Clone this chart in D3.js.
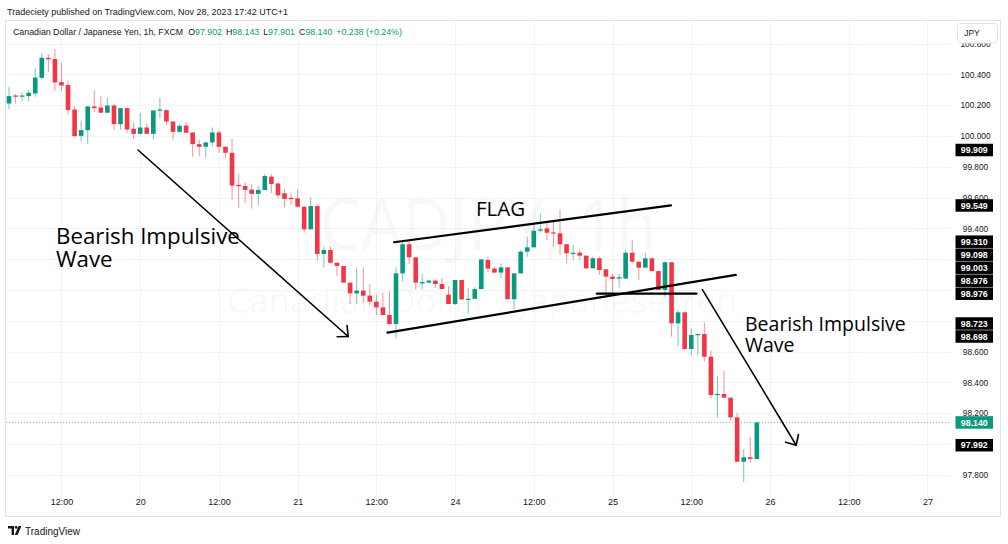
<!DOCTYPE html>
<html><head><meta charset="utf-8">
<script src="https://cdn.jsdelivr.net/npm/d3@7"></script>
<style>
html,body{margin:0;padding:0;background:#fff;}
svg{display:block;font-family:"Liberation Sans",Arial,sans-serif;}
</style></head>
<body>
<svg id="c" width="1008" height="544"></svg>
<script>
// ---- data (CADJPY 1h candles) ----
const opens = [100.211,100.263,100.255,100.259,100.276,100.378,100.508,100.500,100.350,100.331,
100.172,100.001,100.038,100.192,100.185,100.151,100.198,100.077,100.181,100.047,
100.014,100.055,100.014,100.164,100.168,100.094,100.027,100.068,100.023,99.947,
99.930,99.958,100.023,99.930,99.891,99.683,99.676,99.652,99.624,99.649,
99.736,99.692,99.628,99.599,99.595,99.541,99.394,99.545,99.234,99.260,
99.177,99.156,99.048,98.978,98.996,98.963,98.924,98.887,98.838,98.779,
99.108,99.297,99.212,99.043,99.048,99.061,99.039,98.970,98.909,99.065,
98.935,98.943,99.006,99.195,99.139,99.113,99.147,98.940,99.108,99.249,
99.277,99.385,99.400,99.374,99.368,99.297,99.234,99.242,99.223,99.141,
99.206,99.134,99.087,99.074,99.074,99.242,99.184,99.145,99.206,99.123,
99.000,99.180,98.784,98.855,98.617,98.708,98.714,98.567,98.318,98.325,
98.301,98.173,97.885,97.914,97.902];
const highs = [100.320,100.272,100.283,100.302,100.441,100.537,100.532,100.565,100.476,100.359,
100.194,100.099,100.196,100.298,100.259,100.250,100.207,100.181,100.185,100.086,
100.151,100.081,100.166,100.248,100.172,100.094,100.081,100.090,100.023,99.977,
99.962,100.055,100.038,99.930,99.982,99.752,99.700,99.691,99.674,99.753,
99.753,99.692,99.654,99.632,99.654,99.545,99.602,99.558,99.281,99.284,
99.177,99.156,99.048,99.147,99.147,99.039,98.970,98.983,98.991,99.147,
99.325,99.325,99.212,99.104,99.069,99.069,99.078,99.024,99.065,99.065,
99.013,99.019,99.199,99.217,99.152,99.173,99.147,99.108,99.260,99.346,
99.437,99.498,99.444,99.444,99.524,99.297,99.292,99.260,99.223,99.216,
99.216,99.134,99.104,99.104,99.260,99.325,99.184,99.242,99.206,99.123,
99.188,99.180,98.870,98.855,98.751,98.716,98.788,98.606,98.442,98.476,
98.301,98.203,97.966,98.047,98.143];
const lows = [100.175,100.211,100.229,100.224,100.255,100.367,100.417,100.294,100.294,100.142,
99.995,99.967,99.949,100.155,100.151,100.151,100.042,100.042,100.021,99.980,
100.014,100.014,99.977,100.116,100.073,99.973,100.021,100.021,99.865,99.869,
99.858,99.930,99.891,99.860,99.587,99.531,99.564,99.529,99.551,99.649,
99.628,99.595,99.537,99.552,99.530,99.372,99.394,99.190,99.147,99.169,
99.091,99.048,98.909,98.909,98.918,98.902,98.838,98.838,98.773,98.686,
99.054,99.169,99.004,99.004,99.043,99.013,99.006,98.909,98.902,98.939,
98.848,98.943,99.006,99.117,99.108,99.076,98.940,98.875,99.108,99.216,
99.277,99.372,99.325,99.281,99.227,99.173,99.195,99.195,99.134,99.141,
99.097,98.963,98.963,99.017,99.074,99.173,99.065,99.145,99.119,99.000,
98.953,98.697,98.636,98.610,98.574,98.578,98.535,98.297,98.173,98.301,
98.151,97.885,97.755,97.879,97.901];
const closes = [100.259,100.255,100.263,100.281,100.380,100.508,100.498,100.348,100.328,100.168,
99.999,100.038,100.192,100.181,100.151,100.198,100.077,100.181,100.042,100.014,
100.055,100.014,100.166,100.172,100.094,100.027,100.066,100.021,99.947,99.930,
99.958,100.023,99.930,99.891,99.678,99.674,99.650,99.624,99.650,99.740,
99.688,99.615,99.591,99.590,99.541,99.394,99.545,99.234,99.260,99.177,
99.156,99.048,98.978,98.996,98.963,98.924,98.887,98.838,98.779,99.108,
99.297,99.212,99.048,99.052,99.061,99.039,99.006,98.909,99.065,98.939,
98.943,99.006,99.199,99.139,99.113,99.147,98.940,99.108,99.249,99.277,
99.385,99.394,99.372,99.368,99.297,99.238,99.242,99.223,99.141,99.206,
99.130,99.087,99.071,99.083,99.242,99.184,99.145,99.206,99.123,99.000,
99.180,98.784,98.855,98.617,98.708,98.714,98.567,98.318,98.325,98.301,
98.173,97.885,97.914,97.903,98.140];

const timeTickIdx = [8,20,32,44,56,68,80,92,104,116,128,140];
const timeTickLabels = ["12:00","20","12:00","21","12:00","24","12:00","25","12:00","26","12:00","27"];
const priceTicks = [97.8,98.0,98.2,98.4,98.6,98.8,99.0,99.2,99.4,99.6,99.8,100.0,100.2,100.4,100.6];
// drawing endpoint price labels (black), last price (green)
const levelLabels = [99.909,99.549,99.310,99.098,99.003,98.976,98.976,98.723,98.698,97.992];
const lastPrice = 98.140;

// drawings: [index, price] endpoints
const flagUpper = [[58.7,99.310],[100.9,99.549]];
const flagLower = [[57.7,98.723],[110.8,99.098]];
const breakLine = [[89.6,98.976],[104.8,98.976]];
const arrow1 = [[19.66,99.909],[51.7,98.698]];
const arrow2 = [[105.7,99.003],[120.0,97.992]];

// ---- layout ----
const svg = d3.select("#c");
const plotL = 6, plotR = 950, plotT = 20, plotB = 500;
const x = d3.scaleLinear().domain([0,140]).range([9, 927.4]);
const y = d3.scaleLinear().domain([97.8,100.4]).range([474.8,74.4]);
const GREEN="#089981", RED="#F23645", TXT="#131722", GRID="#f0f3fa";

// header
svg.append("text").attr("x",7).attr("y",15).attr("font-size",9).attr("fill",TXT)
  .text("Tradeciety published on TradingView.com, Nov 28, 2023 17:42 UTC+1");

// frame
svg.append("rect").attr("x",5.5).attr("y",20.5).attr("width",995).attr("height",496)
  .attr("fill","none").attr("stroke","#e0e3eb").attr("stroke-width",1);

// grid
const g = svg.append("g");
g.selectAll("line.h").data(priceTicks).join("line")
  .attr("x1",plotL).attr("x2",plotR).attr("y1",d=>Math.round(y(d))+0.5).attr("y2",d=>Math.round(y(d))+0.5)
  .attr("stroke",GRID);
g.selectAll("line.v").data(timeTickIdx).join("line")
  .attr("y1",plotT).attr("y2",plotB).attr("x1",d=>Math.round(x(d))+0.5).attr("x2",d=>Math.round(x(d))+0.5)
  .attr("stroke",GRID);

// watermark
svg.append("text").attr("x",488).attr("y",250).attr("text-anchor","middle").attr("font-size",72)
  .attr("font-family","'Open Sans',sans-serif").attr("fill","rgba(19,23,34,0.03)")
  .attr("textLength",337).attr("lengthAdjust","spacingAndGlyphs").text("CADJPY, 1h");
svg.append("text").attr("x",482).attr("y",313).attr("text-anchor","middle").attr("font-size",35)
  .attr("font-family","'Open Sans',sans-serif").attr("fill","rgba(19,23,34,0.03)")
  .attr("textLength",510).attr("lengthAdjust","spacingAndGlyphs").text("Canadian Dollar / Japanese Yen");

// clip
svg.append("clipPath").attr("id","clip").append("rect")
  .attr("x",plotL).attr("y",plotT).attr("width",plotR-plotL).attr("height",plotB-plotT);
const plot = svg.append("g").attr("clip-path","url(#clip)");

// last price dotted line
plot.append("line").attr("x1",plotL).attr("x2",955).attr("y1",y(lastPrice)).attr("y2",y(lastPrice))
  .attr("stroke",GREEN).attr("stroke-opacity",0.6).attr("stroke-dasharray","1,2");

// candles
const candles = opens.map((o,i)=>({i,o,h:highs[i],l:lows[i],c:closes[i]}));
const bw = 4.6;
plot.selectAll("line.wick").data(candles).join("line")
  .attr("x1",d=>x(d.i)).attr("x2",d=>x(d.i)).attr("y1",d=>y(d.h)).attr("y2",d=>y(d.l))
  .attr("stroke",d=>d.c>=d.o?GREEN:RED).attr("stroke-opacity",0.55).attr("stroke-width",1);
plot.selectAll("rect.body").data(candles).join("rect")
  .attr("x",d=>x(d.i)-bw/2).attr("width",bw)
  .attr("y",d=>y(Math.max(d.o,d.c)))
  .attr("height",d=>Math.max(1.2, Math.abs(y(d.o)-y(d.c))))
  .attr("fill",d=>d.c>=d.o?GREEN:RED);

// drawings
const pt = p=>[x(p[0]),y(p[1])];
function seg(p, w){
  plot.append("line").attr("x1",pt(p[0])[0]).attr("y1",pt(p[0])[1]).attr("x2",pt(p[1])[0]).attr("y2",pt(p[1])[1])
    .attr("stroke","#000").attr("stroke-width",w).attr("stroke-linecap","round");
}
function arrow(p){
  seg(p,1.6);
  const [x0,y0]=pt(p[0]), [x1,y1]=pt(p[1]);
  const a = Math.atan2(y1-y0,x1-x0)+Math.PI, L=11;
  [a-Math.PI/4.2, a+Math.PI/4.2].forEach(t=>{
    plot.append("line").attr("x1",x1).attr("y1",y1).attr("x2",x1+L*Math.cos(t)).attr("y2",y1+L*Math.sin(t))
      .attr("stroke","#000").attr("stroke-width",1.6).attr("stroke-linecap","round");
  });
}
seg(flagUpper,2.2); seg(flagLower,2.2); seg(breakLine,2.2);
arrow(arrow1); arrow(arrow2);

const af = "'Open Sans',sans-serif";
function label(xp, yp, lines, fs, lh){
  const t = svg.append("text").attr("x",xp).attr("y",yp).attr("font-size",fs).attr("font-family",af).attr("fill","#000");
  lines.forEach((s,k)=>t.append("tspan").attr("x",xp).attr("dy",k?lh:0).text(s));
}
label(56,244,["Bearish Impulsive","Wave"],22.3,22.5);
label(745,331,["Bearish Impulsive","Wave"],19.5,21);
label(476,216,["FLAG"],20.5,0);

// time axis
const tax = d3.axisBottom(x).tickValues(timeTickIdx).tickFormat((d,k)=>timeTickLabels[k]).tickSize(0);
const tg = svg.append("g").attr("transform","translate(0,497)").call(tax);
tg.select(".domain").remove();
tg.selectAll("text").attr("font-size",9).attr("fill",TXT).attr("font-family","'Liberation Sans',Arial,sans-serif").attr("dy","0.55em");

// level labels stacked bottom-up (computed before axis so covered ticks can be skipped)
const sorted = levelLabels.map(v=>({v, yt:y(v)})).sort((a,b)=>b.yt-a.yt);
let prev = Infinity;
sorted.forEach(d=>{ d.yd = Math.min(d.yt, prev-13); prev = d.yd; });
const allLabels = sorted.map(d=>({v:d.v,yd:d.yd,col:"#000"})).concat([{v:lastPrice,yd:y(lastPrice),col:GREEN}]);

// price axis (tick labels fully hidden under a level label are not drawn)
const visibleTicks = priceTicks.filter(t=>!allLabels.some(l=>Math.abs(l.yd-y(t))<6));
const pax = d3.axisRight(y).tickValues(visibleTicks).tickFormat(d3.format(".3f")).tickSize(0);
const pg = svg.append("g").attr("transform","translate(975.5,0)").call(pax);
pg.select(".domain").remove();
pg.selectAll("text").attr("x",0).attr("text-anchor","middle").attr("font-size",8.3).attr("fill",TXT)
  .attr("font-family","'Liberation Sans',Arial,sans-serif");

// JPY button over axis top
svg.append("rect").attr("x",957.5).attr("y",23.5).attr("width",40).attr("height",19.5).attr("rx",3)
  .attr("fill","#fff").attr("stroke","#e0e3eb");
svg.append("text").attr("x",972).attr("y",36).attr("text-anchor","middle").attr("font-size",8.5).attr("fill",TXT).text("JPY");

const lh = 12.5;
const lg = svg.append("g");
lg.selectAll("rect").data(allLabels).join("rect")
  .attr("x",955.5).attr("width",37.5).attr("y",d=>d.yd-lh/2).attr("height",lh).attr("fill",d=>d.col);
lg.selectAll("text").data(allLabels).join("text")
  .attr("x",974.3).attr("y",d=>d.yd+3.2).attr("text-anchor","middle").attr("font-size",8.8)
  .attr("font-weight","bold").attr("fill","#fff").text(d=>d3.format(".3f")(d.v));

// legend (symbol line) on top
const leg = svg.append("text").attr("x",13).attr("y",34.5).attr("font-size",8.8).attr("fill",TXT);
leg.append("tspan").text("Canadian Dollar / Japanese Yen, 1h, FXCM");
const ohlc = [["O",opens[114]],["H",highs[114]],["L",lows[114]],["C",closes[114]]];
ohlc.forEach(([k,v],j)=>{
  leg.append("tspan").attr("dx",j?4:5).attr("fill",TXT).text(k);
  leg.append("tspan").attr("fill",GREEN).text(d3.format(".3f")(v));
});
leg.append("tspan").attr("dx",4).attr("fill",GREEN).text("+0.238 (+0.24%)");

// TradingView logo
const logo = svg.append("g").attr("transform","translate(8,526)");
logo.append("path").attr("d","M0 0 H6 V9 H3.6 V2.4 H0 Z").attr("fill",TXT);
logo.append("circle").attr("cx",8.2).attr("cy",1.4).attr("r",1.4).attr("fill",TXT);
logo.append("path").attr("d","M10.6 0 H13.4 L9.6 9 H6.8 Z").attr("fill",TXT);
svg.append("text").attr("x",25).attr("y",535).attr("font-size",10).attr("fill",TXT).text("TradingView");
</script>
</body></html>
